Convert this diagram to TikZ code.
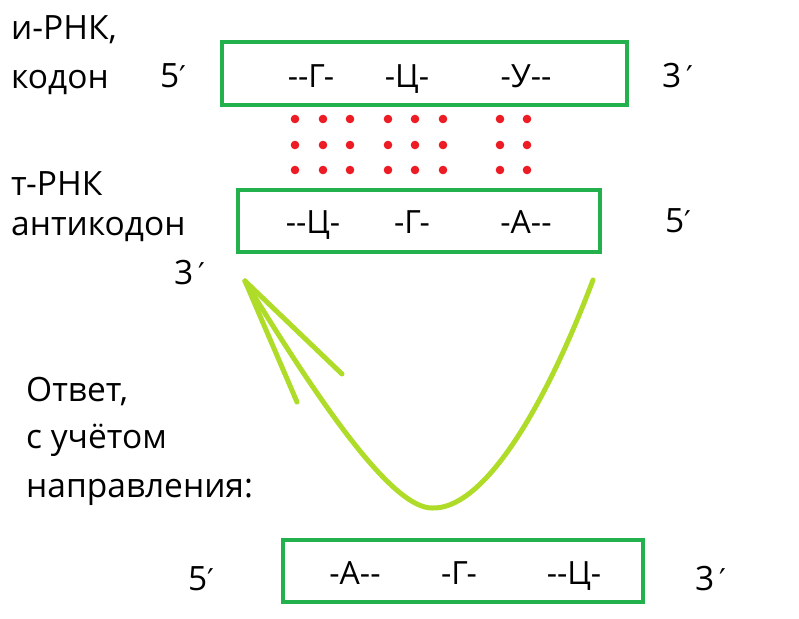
\documentclass[tikz,border=0pt]{standalone}
\usepackage{fontspec}
\setmainfont{Open Sans}
\newfontfamily\primefont{DejaVu Sans}
\usepackage{tikz}
\usetikzlibrary{positioning, calc}
\definecolor{boxgreen}{HTML}{22B14C}
\definecolor{dotred}{HTML}{ED1C24}
\definecolor{arrowlime}{HTML}{AEDC28}
\newcommand{\pr}{{\primefont\fontsize{30}{30}\selectfont ′}}

\begin{document}
\begin{tikzpicture}[x=1pt, y=-1pt, every node/.style={font=\fontsize{33.5}{34}\selectfont, inner sep=0pt}]
  \tikzset{
    strand/.style={draw=boxgreen, line width=4pt},
    base/.style={anchor=base, font=\fontsize{32}{32}\selectfont},
    label/.style={anchor=base west},
    bond/.style={fill=dotred},
    turn/.style={draw=arrowlime, line width=5pt, line cap=round}
  }
  \useasboundingbox (0,0) rectangle (799,618);
  % strands
  \node[strand, minimum width=405pt, minimum height=63pt] (mrna) at (424.5,73.5) {};
  \node[strand, minimum width=362pt, minimum height=62pt] (trna) at (419,221) {};
  \node[strand, minimum width=360pt, minimum height=62pt] (ans) at (463,571) {};
  % codon / anticodon / answer
  \node[base] (m1) at (311,87) {-{}-Г-};
  \node[base] (m2) at (407,87) {-Ц-};
  \node[base] (m3) at (526,87) {-У-{}-};
  \node[base] (t1) at (313,233) {-{}-Ц-};
  \node[base] (t2) at (412,233) {-Г-};
  \node[base] (t3) at (526,233) {-А-{}-};
  \node[base] (a1) at (355,584) {-А-{}-};
  \node[base] (a2) at (459,584) {-Г-};
  \node[base] (a3) at (574,584) {-{}-Ц-};
  % hydrogen bonds
  \foreach \x in {295,323,350,388,415,443,500,527}
    \foreach \y in {119,145,170}
      \fill[bond] (\x,\y) circle (4.3pt);
  % left labels
  \node[label] (lm1) at (11,40) {и-РНК,};
  \node[label] (lm2) at (11,88) {кодон};
  \node[label] (lt1) at (11,195) {т-РНК};
  \node[label] (lt2) at (11,235) {антикодон};
  \node[label] (la1) at (26,401) {Ответ,};
  \node[label] (la2) at (26,448) {с учётом};
  \node[label] (la3) at (26,497) {направления:};
  % ends
  \node[label] (e1) at (160,87) {5\pr};
  \node[label] (e2) at (662,87) {3\,\pr};
  \node[label] (e3) at (665,232) {5\pr};
  \node[label] (e4) at (174,284) {3\,\pr};
  \node[label] (e5) at (188,590) {5\pr};
  \node[label] (e6) at (695,590) {3\,\pr};
  % reversal arrow
  \coordinate (from) at (593,280);
  \coordinate (low) at (432,508);
  \coordinate (tip) at (245,281);
  \coordinate (wing1) at (342,374);
  \coordinate (wing2) at (297,402);
  \draw[turn] (from) .. controls (540,420) and (480,510) .. (low)
    .. controls (395,508) and (330,420) .. (tip);
  \draw[turn] (tip) -- (wing1);
  \draw[turn] (tip) -- (wing2);
\end{tikzpicture}
\end{document}
